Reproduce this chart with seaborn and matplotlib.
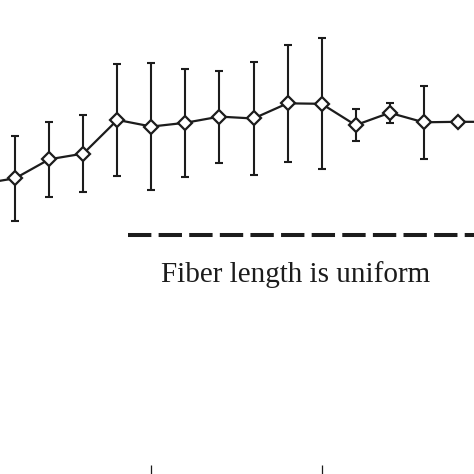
import matplotlib
matplotlib.use("Agg")
import matplotlib.pyplot as plt
import seaborn as sns
import numpy as np

# data
positions = [0, 1, 2, 3, 4, 5, 6, 7, 8, 9, 10, 11, 12, 13, 14, 15]
means = [6.12, 6.24, 6.64, 6.76, 7.47, 7.33, 7.41, 7.54, 7.50, 7.82, 7.81,
         7.36, 7.62, 7.42, 7.43, 7.43]
errors = [0.50, 0.90, 0.79, 0.82, 1.19, 1.34, 1.14, 0.97, 1.19, 1.24, 1.38,
          0.33, 0.21, 0.77, 0.06, 0.06]
threshold_value = 5.04
threshold_start = 4.31
threshold_end = 15
label_text = "Fiber length is uniform"
tick_positions = [5, 10]

sns.set_theme(style="white")
plt.rcParams['font.family'] = ['Liberation Serif', 'DejaVu Serif']

fig = plt.figure(figsize=(4.74, 4.74), dpi=100)
ax = fig.add_axes([0, 0, 1, 1])

ink = "#1c1c1c"

ax.errorbar(positions, means, yerr=errors, fmt='none', ecolor=ink,
            elinewidth=1.5, capsize=2.9, capthick=1.5, zorder=2)
sns.lineplot(x=positions, y=means, ax=ax, color=ink, linewidth=1.6,
             marker='D', markersize=7.6, markerfacecolor='white',
             markeredgecolor=ink, markeredgewidth=1.6, zorder=3)

ax.plot([threshold_start, threshold_end], [threshold_value, threshold_value],
        color=ink, linewidth=2.9, dashes=(5.8, 1.8), solid_capstyle='butt',
        dash_capstyle='butt', zorder=1)

ax.text(9.24, 4.057, label_text, ha='center', va='baseline', fontsize=21,
        color=ink, family=['Liberation Serif', 'DejaVu Serif'])

ax.set_xticks(tick_positions)
ax.set_yticks([])
ax.set_xlim(0.55, 14.479)
ax.set_ylim(0, 10)
for s in ax.spines.values():
    s.set_visible(False)
ax.tick_params(axis='x', direction='in', length=6.5, width=0.9, color=ink,
               bottom=True, top=False, labelbottom=False)
ax.tick_params(axis='y', left=False, labelleft=False)
ax.set_xlabel("")
ax.set_ylabel("")

fig.savefig("out.png", dpi=100)
